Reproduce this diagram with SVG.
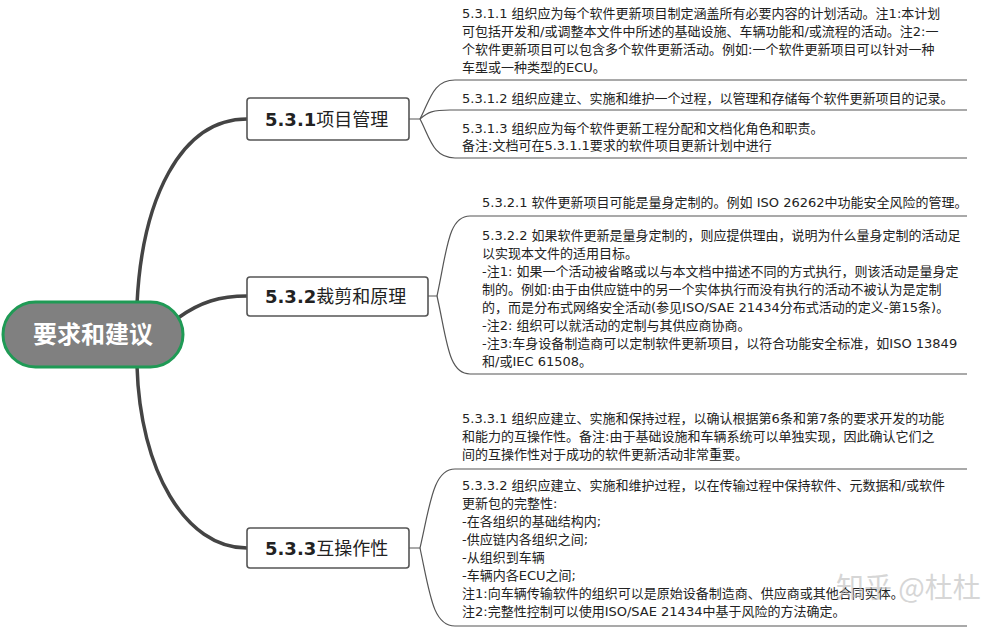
<svg xmlns="http://www.w3.org/2000/svg" width="986" height="629" viewBox="0 0 986 629">
<style>
.bg{fill:#fff}
.main{fill:none;stroke:#444;stroke-width:3.5;stroke-linecap:round}
.sub{fill:none;stroke:#555;stroke-width:1.2}
.box{fill:#fff;stroke:#555;stroke-width:1.6}
.bt{font-family:"DejaVu Sans","Noto Sans CJK SC",sans-serif;font-size:18px;fill:#222}
.bt .n{font-weight:bold}
.t{font-family:"DejaVu Sans","Noto Sans CJK SC",sans-serif;font-size:13px;fill:#222}
.root{fill:#808080;stroke:#1f9a55;stroke-width:3}
.rt{font-family:"Noto Sans CJK SC",sans-serif;font-size:24px;font-weight:bold;fill:#fff}
.wm{font-family:"Noto Sans CJK SC",sans-serif;font-size:28px;fill:#bbb;opacity:0.6}
</style>
<rect class="bg" x="0" y="0" width="986" height="629"/>
<g id="connectors">
<path class="main" d="M137,304 C142,200 180,119 247,119"/>
<path class="main" d="M178,318 C200,302 220,296 247,296"/>
<path class="main" d="M137,366 C140,470 185,548 247,548"/>
<path class="sub" d="M409,119 H420 C430,100 433,80 455,80 H967"/>
<path class="sub" d="M420,119 C428,112 433,110 450,110 H967"/>
<path class="sub" d="M420,119 C430,138 433,158 455,158 H967"/>
<path class="sub" d="M428,296 H437 C447,250 448,216 470,216 H967"/>
<path class="sub" d="M437,296 C447,340 448,374 470,374 H967"/>
<path class="sub" d="M409,548 H420 C430,505 433,469 455,469 H967"/>
<path class="sub" d="M420,548 C430,595 433,626 455,626 H967"/>
</g>
<g id="root">
<rect class="root" x="3" y="302" width="180" height="65" rx="32.5"/>
<text class="rt" x="93" y="343" text-anchor="middle">要求和建议</text>
</g>
<g id="n531">
<rect class="box" x="247" y="98" width="162" height="42" rx="3"/>
<text class="bt" x="265" y="126"><tspan class="n">5.3.1</tspan>项目管理</text>
</g>
<g id="n532">
<rect class="box" x="247" y="277" width="181" height="39" rx="3"/>
<text class="bt" x="265" y="303"><tspan class="n">5.3.2</tspan>裁剪和原理</text>
</g>
<g id="n533">
<rect class="box" x="247" y="528" width="162" height="40" rx="3"/>
<text class="bt" x="265" y="555"><tspan class="n">5.3.3</tspan>互操作性</text>
</g>
<g id="n5311">
<text class="t" x="462" y="18">5.3.1.1 组织应为每个软件更新项目制定涵盖所有必要内容的计划活动。注1:本计划</text>
<text class="t" x="462" y="36">可包括开发和/或调整本文件中所述的基础设施、车辆功能和/或流程的活动。注2:一</text>
<text class="t" x="462" y="54">个软件更新项目可以包含多个软件更新活动。例如:一个软件更新项目可以针对一种</text>
<text class="t" x="462" y="72">车型或一种类型的ECU。</text>
</g>
<g id="n5312">
<text class="t" x="462" y="103">5.3.1.2 组织应建立、实施和维护一个过程，以管理和存储每个软件更新项目的记录。</text>
</g>
<g id="n5313">
<text class="t" x="462" y="133">5.3.1.3 组织应为每个软件更新工程分配和文档化角色和职责。</text>
<text class="t" x="462" y="150">备注:文档可在5.3.1.1要求的软件项目更新计划中进行</text>
</g>
<g id="n5321">
<text class="t" x="482" y="207">5.3.2.1 软件更新项目可能是量身定制的。例如 ISO 26262中功能安全风险的管理。</text>
</g>
<g id="n5322">
<text class="t" x="482" y="240">5.3.2.2 如果软件更新是量身定制的，则应提供理由，说明为什么量身定制的活动足</text>
<text class="t" x="482" y="258">以实现本文件的适用目标。</text>
<text class="t" x="482" y="276">-注1: 如果一个活动被省略或以与本文档中描述不同的方式执行，则该活动是量身定</text>
<text class="t" x="482" y="294">制的。例如:由于由供应链中的另一个实体执行而没有执行的活动不被认为是定制</text>
<text class="t" x="482" y="312">的，而是分布式网络安全活动(参见ISO/SAE 21434分布式活动的定义-第15条)。</text>
<text class="t" x="482" y="330">-注2: 组织可以就活动的定制与其供应商协商。</text>
<text class="t" x="482" y="348">-注3:车身设备制造商可以定制软件更新项目，以符合功能安全标准，如ISO 13849</text>
<text class="t" x="482" y="366">和/或IEC 61508。</text>
</g>
<g id="n5331">
<text class="t" x="462" y="423">5.3.3.1 组织应建立、实施和保持过程，以确认根据第6条和第7条的要求开发的功能</text>
<text class="t" x="462" y="441">和能力的互操作性。备注:由于基础设施和车辆系统可以单独实现，因此确认它们之</text>
<text class="t" x="462" y="459">间的互操作性对于成功的软件更新活动非常重要。</text>
</g>
<g id="n5332">
<text class="t" x="462" y="490">5.3.3.2 组织应建立、实施和维护过程，以在传输过程中保持软件、元数据和/或软件</text>
<text class="t" x="462" y="508">更新包的完整性:</text>
<text class="t" x="462" y="526">-在各组织的基础结构内;</text>
<text class="t" x="462" y="544">-供应链内各组织之间;</text>
<text class="t" x="462" y="562">-从组织到车辆</text>
<text class="t" x="462" y="580">-车辆内各ECU之间;</text>
<text class="t" x="462" y="598">注1:向车辆传输软件的组织可以是原始设备制造商、供应商或其他合同实体。</text>
<text class="t" x="462" y="616">注2:完整性控制可以使用ISO/SAE 21434中基于风险的方法确定。</text>
</g>
<text class="wm" x="836" y="598">知乎 @杜杜</text>
</svg>
